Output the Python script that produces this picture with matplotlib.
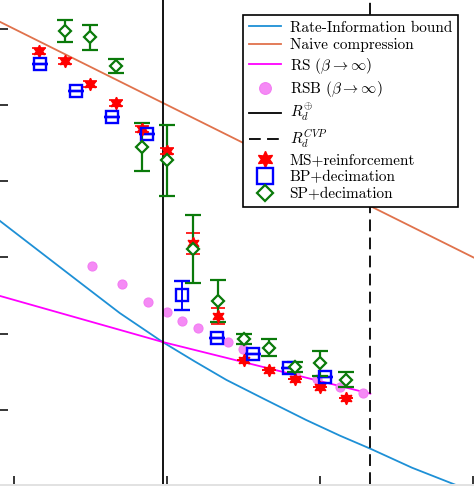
"""Distortion vs rate: bounds, RS/RSB predictions and algorithm results."""
import matplotlib
matplotlib.use("Agg")
import matplotlib.pyplot as plt

plt.rcParams["font.family"] = "serif"
plt.rcParams["font.serif"] = ["cmr10", "DejaVu Serif"]
plt.rcParams["mathtext.fontset"] = "cm"
plt.rcParams["axes.unicode_minus"] = False

# --- theory curves ---
rib_x = [0.1909, 0.2430, 0.2691, 0.2971, 0.3180, 0.3388, 0.3636, 0.3909,
         0.4130, 0.4332, 0.4600, 0.4886, 0.5005]
rib_y = [0.2739, 0.2336, 0.2135, 0.1945, 0.1818, 0.1696, 0.1570, 0.1433,
         0.1330, 0.1243, 0.1120, 0.1007, 0.0958]

naive_x = [0.19, 0.5005]
naive_y = [0.405, 0.2498]

rs_x = [0.1909, 0.2971, 0.4328]
rs_y = [0.2247, 0.1945, 0.1606]

rsb_x = [0.2508, 0.2704, 0.2873, 0.3003, 0.3101, 0.3199, 0.3401, 0.3498,
         0.3837, 0.3980, 0.4130, 0.4280]
rsb_y = [0.2444, 0.2325, 0.2207, 0.2142, 0.2083, 0.2037, 0.1945, 0.1899,
         0.1735, 0.1702, 0.1650, 0.1610]

rd_xor = 0.2971
rd_cvp = 0.4328

# --- algorithms ---
ms_x = [k / 60 for k in range(13, 26)]
ms_y = [0.3854, 0.3789, 0.3638, 0.3513, 0.3343, 0.3198, 0.2594, 0.2115,
        0.1827, 0.1761, 0.1702, 0.1650, 0.1577]
ms_err = [0.002, 0.002, 0.002, 0.002, 0.002, 0.002, 0.0069, 0.0052,
          0.0, 0.0, 0.0, 0.0, 0.0]

bp_x = [0.2169, 0.2404, 0.2638, 0.2866, 0.3101, 0.3329, 0.3564, 0.3798, 0.4033]
bp_y = [0.3769, 0.3592, 0.3421, 0.3310, 0.2253, 0.1971, 0.1866, 0.1774, 0.1715]
bp_err = [0.0, 0.0, 0.0, 0.0, 0.0095, 0.0, 0.0, 0.0, 0.0]

sp_x = [k / 60 for k in range(14, 26)]
sp_y = [0.3986, 0.3946, 0.3756, 0.3224, 0.3139, 0.2555, 0.2214, 0.1965,
        0.1906, 0.1781, 0.1807, 0.1696]
sp_err = [0.0075, 0.0082, 0.0046, 0.0157, 0.0233, 0.0226, 0.0138, 0.0033,
          0.0056, 0.0030, 0.0082, 0.0049]

y_ticks = [0.15, 0.20, 0.25, 0.30, 0.35, 0.40]
x_ticks = [0.2, 0.3, 0.4, 0.5]

LABELS = [
    "Rate-Information bound",
    "Naive compression",
    r"RS ($\beta \to \infty$)",
    r"RSB ($\beta \to \infty$)",
    r"$R_d^{\oplus}$",
    r"$R_d^{CVP}$",
    "MS+reinforcement",
    "BP+decimation",
    "SP+decimation",
]


def main():
    fig = plt.figure(figsize=(4.74, 4.86), dpi=100, facecolor="#e2e2e2")
    ax = fig.add_axes([0, 2.5 / 486, 1, 483.5 / 486])
    ax.set_facecolor("white")

    handles = []
    h, = ax.plot(rib_x, rib_y, color="#1E90D6", lw=1.3)
    handles.append(h)
    h, = ax.plot(naive_x, naive_y, color="#E0724C", lw=1.3)
    handles.append(h)
    h, = ax.plot(rs_x, rs_y, color="#FF00FF", lw=1.3)
    handles.append(h)
    h, = ax.plot(rsb_x, rsb_y, ls="none", marker="o", ms=6.5, mfc="#F58AF5",
                 mec="#F27CF2", mew=0.8)
    handles.append(h)
    handles.append(ax.axvline(rd_xor, color="black", lw=1.3))
    handles.append(ax.axvline(rd_cvp, color="black", lw=1.3, dashes=(6.5, 3.5)))

    ms = ax.errorbar(ms_x, ms_y, yerr=ms_err, ls="none", marker=(6, 1, 0), ms=9,
                     color="#FF0000", mec="#FF0000", capsize=5, elinewidth=1.2,
                     capthick=1.2)
    bp = ax.errorbar(bp_x, bp_y, yerr=bp_err, ls="none", marker="s", ms=8.5,
                     mfc="none", mec="#0000FF", mew=1.7, color="#0000FF",
                     capsize=5.5, elinewidth=1.4, capthick=1.4)
    sp = ax.errorbar(sp_x, sp_y, yerr=sp_err, ls="none", marker="D", ms=6.5,
                     mfc="white", mec="#0A7A0A", mew=1.6, color="#0A7A0A",
                     capsize=5.5, elinewidth=1.6, capthick=1.6)
    handles += [ms[0], bp[0], sp[0]]

    ax.set_xlim(0.1909, 0.5005)
    ax.set_ylim(0.1 + 2.5 / 1524, 0.1 + 486 / 1524)
    ax.set_xticks(x_ticks)
    ax.set_yticks(y_ticks)
    ax.tick_params(direction="in", length=5.5, width=1.1, color="black",
                   labelbottom=False, labelleft=False)
    for s in ax.spines.values():
        s.set_visible(False)

    leg = ax.legend(handles, LABELS, loc="upper right",
                    bbox_to_anchor=(458 / 474, 1 - 15 / 484),
                    borderaxespad=0, fancybox=False, edgecolor="black",
                    framealpha=1, fontsize=11, handlelength=2.1,
                    labelspacing=0.22, handletextpad=0.55, borderpad=0.4,
                    markerscale=1.3)
    leg.get_frame().set_linewidth(1.2)

    fig.savefig("out.png", dpi=100, facecolor=fig.get_facecolor())
    plt.close(fig)


if __name__ == "__main__":
    main()
